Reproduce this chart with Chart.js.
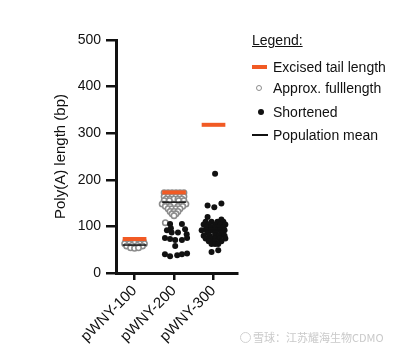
<!DOCTYPE html>
<html>
<head>
<meta charset="utf-8">
<script src="https://cdn.jsdelivr.net/npm/chart.js@4"></script>
<style>
  body { margin: 0; background: #fff; font-family: "Liberation Sans", Arial, sans-serif; }
  #wrap { position: relative; width: 403px; height: 351px; }
  #chart { position: absolute; left: 0; top: 0; }
  .lg { position: absolute; font-size: 14px; color: #111; white-space: nowrap; line-height: 16px; }
  .mk { position: absolute; }
  #wm { position: absolute; left: 253px; top: 329px; font-size: 11px; color: #c9c9c9; font-family: "Noto Sans CJK SC", sans-serif; white-space: nowrap; }
  #wmIcon { position: absolute; left: 240px; top: 332px; width: 9px; height: 9px; border: 1.5px solid #d0d0d0; border-radius: 50%; }
</style>
</head>
<body>
<div id="wrap">
  <canvas id="chart" width="403" height="351"></canvas>
  <div class="lg" style="left:252px;top:32px;text-decoration:underline;">Legend:</div>
  <div class="mk" style="left:252px;top:65px;width:15px;height:4px;background:#f15a24;"></div>
  <div class="lg" style="left:273px;top:59px;">Excised tail length</div>
  <div class="mk" style="left:256px;top:85px;width:4px;height:4px;border:1.2px solid #8c8c8c;border-radius:50%;"></div>
  <div class="lg" style="left:273px;top:80px;">Approx. fulllength</div>
  <div class="mk" style="left:258px;top:109px;width:6px;height:6px;background:#111;border-radius:50%;"></div>
  <div class="lg" style="left:273px;top:104px;">Shortened</div>
  <div class="mk" style="left:252px;top:134px;width:16px;height:2px;background:#111;"></div>
  <div class="lg" style="left:273px;top:127px;">Population mean</div>
  <div id="wmIcon"></div>
  <div id="wm">雪球：江苏耀海生物CDMO</div>
</div>
<script>
const categories = ["pWNY-100", "pWNY-200", "pWNY-300"];
const excisedLength = [73, 173, 318];
const populationMean = [60, 152, 92];

// [jitter offset, length], one list per construct
const full100 = [
  [-0.22, 68], [-0.11, 68], [0, 68], [0.11, 68], [0.22, 68],
  [-0.25, 63], [-0.13, 63], [0, 64], [0.13, 63], [0.25, 63],
  [-0.2, 58], [-0.07, 59], [0.07, 59], [0.2, 58],
  [-0.1, 54], [0, 53], [0.1, 54]
];
const full200 = [
  [-0.25, 172], [-0.15, 172], [-0.05, 172], [0.05, 172], [0.15, 172], [0.25, 172],
  [-0.2, 168], [-0.1, 168], [0, 168], [0.1, 168], [0.2, 168],
  [-0.25, 164], [-0.15, 164], [-0.05, 164], [0.05, 164], [0.15, 164], [0.25, 164],
  [-0.2, 159], [-0.1, 159], [0, 159], [0.1, 159], [0.2, 159],
  [-0.25, 155], [-0.12, 155], [0.12, 155], [0.25, 155],
  [-0.3, 148], [-0.2, 148], [0.2, 148], [0.3, 148],
  [-0.22, 143], [-0.1, 143], [0.1, 143], [0.22, 143],
  [-0.15, 138], [-0.05, 138], [0.05, 138], [0.15, 138],
  [-0.1, 132], [0, 132], [0.1, 132],
  [-0.05, 127], [0.05, 127], [0, 123],
  [-0.22, 108]
];
const short200 = [
  [-0.1, 105], [0.2, 105], [-0.08, 96], [0.28, 94], [-0.18, 92], [-0.06, 87], [0.1, 87], [0.32, 83],
  [-0.23, 75], [-0.1, 73], [0.03, 71], [0.2, 71], [0.33, 75], [0.03, 58],
  [-0.23, 40], [-0.1, 36], [0.08, 38], [0.2, 40], [0.33, 42]
];
const short300 = [
  [0.04, 213], [-0.15, 145], [0.02, 141], [0.2, 149], [-0.15, 120], [0.2, 115],
  [-0.2, 110], [-0.05, 110], [0.1, 110], [0.25, 110],
  [-0.25, 104], [-0.12, 104], [0.04, 104], [0.18, 104], [0.3, 104],
  [-0.18, 98], [-0.06, 98], [0.04, 98], [0.14, 98], [0.25, 98],
  [-0.3, 92], [-0.18, 92], [-0.06, 92], [0.04, 92], [0.16, 92], [0.28, 92],
  [-0.15, 86], [0.04, 86], [0.2, 86],
  [-0.25, 80], [-0.1, 80], [0.04, 80], [0.14, 80], [0.28, 80],
  [-0.2, 74], [-0.06, 74], [0.04, 74], [0.16, 74], [0.3, 74],
  [-0.12, 68], [0.04, 68], [0.2, 68],
  [-0.05, 62], [0.04, 62], [0.12, 62],
  [-0.05, 45], [0.12, 49]
];

const ORANGE = "#f15a24";
const BLACK = "#111";
const GRAY = "#8c8c8c";

function toPoints(list, cat) {
  return list.map(p => ({ x: cat + 1 + p[0], y: p[1] }));
}

function segment(cat, v) {
  return [{ x: cat + 0.7, y: v }, { x: cat + 1.3, y: v }];
}

const datasets = [];

excisedLength.forEach((v, i) => {
  datasets.push({
    type: "line", data: segment(i, v), borderColor: ORANGE, borderWidth: 4,
    pointRadius: 0, order: 0
  });
});
populationMean.forEach((v, i) => {
  datasets.push({
    type: "line", data: segment(i, v), borderColor: BLACK, borderWidth: 1.5,
    pointRadius: 0, order: 1
  });
});

datasets.push({
  data: toPoints(full100, 0).concat(toPoints(full200, 1)),
  pointRadius: 2.7, pointBackgroundColor: "#fff", pointBorderColor: GRAY,
  pointBorderWidth: 1.6, order: 3
});
datasets.push({
  data: toPoints(short200, 1).concat(toPoints(short300, 2)),
  pointRadius: 3, pointBackgroundColor: BLACK, pointBorderColor: BLACK,
  pointBorderWidth: 0, order: 2
});

const tickFont = { family: "'Liberation Sans', Arial, sans-serif", size: 14 };
const labelFont = { family: "'Liberation Sans', Arial, sans-serif", size: 15 };

new Chart(document.getElementById("chart"), {
  type: "scatter",
  data: { datasets },
  options: {
    responsive: false,
    animation: false,
    layout: { padding: { left: 0, top: 40, right: 166, bottom: 0 } },
    plugins: { legend: { display: false }, tooltip: { enabled: false } },
    scales: {
      x: {
        type: "linear",
        min: 0.53,
        max: 3.595,
        afterBuildTicks: s => { s.ticks = [1, 2, 3].map(v => ({ value: v })); },
        afterFit: s => { s.height = 78; },
        ticks: {
          callback: v => categories[v - 1],
          font: labelFont, color: BLACK, minRotation: 45, maxRotation: 45, padding: 2
        },
        grid: { drawOnChartArea: false, color: BLACK, lineWidth: 2.5, tickLength: 7 },
        border: { color: BLACK, width: 3 }
      },
      y: {
        min: 0,
        max: 500,
        afterFit: s => { s.width = 116; },
        ticks: { stepSize: 100, font: tickFont, color: BLACK, padding: 5 },
        grid: { drawOnChartArea: false, color: BLACK, lineWidth: 2.5, tickLength: 10 },
        border: { color: BLACK, width: 3 },
        title: {
          display: true, text: "Poly(A) length (bp)", color: BLACK,
          font: labelFont, padding: { top: 52, bottom: 0 }
        }
      }
    }
  }
});
</script>
</body>
</html>
